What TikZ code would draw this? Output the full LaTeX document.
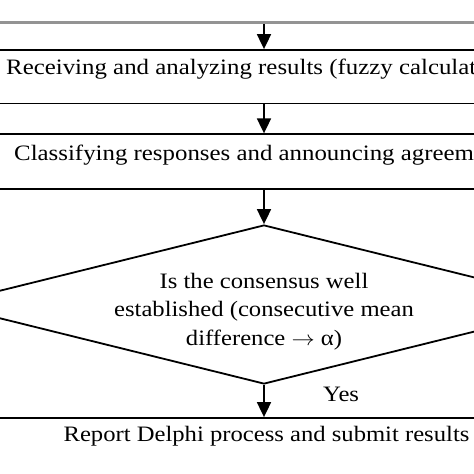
\documentclass[tikz,border=0pt]{standalone}
\usepackage{fontspec}
\usepackage{graphicx}
\setmainfont{Liberation Serif}
\usetikzlibrary{arrows.meta,shapes.geometric}
\begin{document}
\begin{tikzpicture}[x=1pt,y=-1pt,
  box/.style={draw=black,line width=1.8pt,rectangle,inner sep=0pt,minimum width=900pt},
  txt/.style={font=\fontsize{22}{28.5}\selectfont,inner sep=0pt,anchor=base},
  flow/.style={line width=1.8pt,-{Triangle[width=14pt,length=15pt]}}
]
\useasboundingbox (0,0) rectangle (474,474);
\clip (0,0) rectangle (474,474);
% boxes
\node[box,draw=gray!85,line width=3pt,minimum height=100pt] (b0) at (264,-27.5) {};
\node[box,minimum height=53.5pt] (b1) at (264,76.75) {};
\node[box,minimum height=54.5pt] (b2) at (264,161.5) {};
\node[diamond,draw,line width=1.8pt,minimum width=640pt,minimum height=159pt,inner sep=0pt] (d) at (264,304.5) {};
\node[box,minimum height=100pt] (b4) at (264,468) {};
% texts
\node[txt,anchor=base west] (t1) at (6,74) {\scalebox{1.13}[1]{Receiving and analyzing results (fuzzy calculations)}};
\node[txt,anchor=base west] (t2) at (14,160) {\scalebox{1.13}[1]{Classifying responses and announcing agreement}};
\node[txt] (q1) at (264,288) {\scalebox{1.12}[1]{Is the consensus well}};
\node[txt] (q2) at (264,316.5) {\scalebox{1.12}[1]{established (consecutive mean}};
\node[txt] (q3) at (264,345) {\scalebox{1.12}[1]{difference $\rightarrow$ α)}};
\node[txt,anchor=base west] (yes) at (323,401.7) {\scalebox{1.12}[1]{Yes}};
\node[txt] (t4) at (266.5,441.7) {\scalebox{1.12}[1]{Report Delphi process and submit results}};
% connectors
\draw[flow] (b0.south) -- (b1.north);
\draw[flow] (b1.south) -- (b2.north);
\draw[flow] (b2.south) -- (d.north);
\draw[flow] (d.south) -- (b4.north);
\end{tikzpicture}
\end{document}
